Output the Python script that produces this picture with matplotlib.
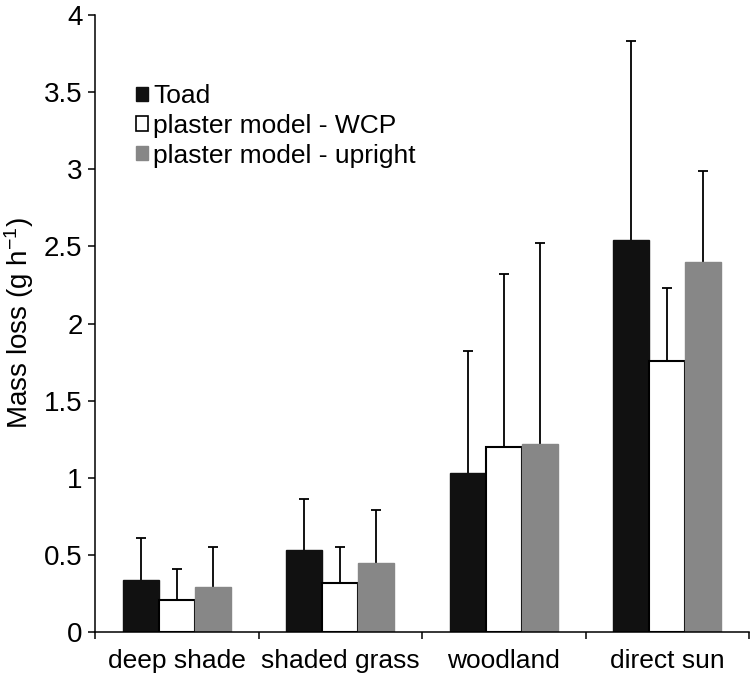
import numpy as np
import matplotlib
matplotlib.use('Agg')
import matplotlib.pyplot as plt
from matplotlib.patches import Patch

plt.rcParams['font.family'] = ['Liberation Sans', 'DejaVu Sans']

categories = ['deep shade', 'shaded grass', 'woodland', 'direct sun']
series = ['Toad', 'plaster model - WCP', 'plaster model - upright']
toad = [0.34, 0.53, 1.03, 2.54]
toad_sd = [0.27, 0.33, 0.79, 1.29]
wcp = [0.21, 0.32, 1.20, 1.76]
wcp_sd = [0.20, 0.23, 1.12, 0.47]
upright = [0.29, 0.45, 1.22, 2.40]
upright_sd = [0.26, 0.34, 1.30, 0.59]

fig = plt.figure(figsize=(7.5, 6.75), dpi=100)
ax = fig.add_axes([95 / 750, 1 - 632 / 675, 654 / 750, 617 / 675])

fs = 19
w = 0.22
x = np.arange(len(categories)) + 0.5
styles = [
    dict(color='#111111', edgecolor='#111111'),
    dict(color='white', edgecolor='black', linewidth=1.5),
    dict(color='#878787', edgecolor='#878787'),
]
vals = [toad, wcp, upright]
sds = [toad_sd, wcp_sd, upright_sd]
for k in range(3):
    pos = x + (k - 1) * w
    ax.bar(pos, vals[k], width=w, zorder=2, **styles[k])
    eb = ax.errorbar(pos, vals[k], yerr=[np.zeros(len(pos)), sds[k]], fmt='none',
                     ecolor='black', elinewidth=1.3, capsize=3.8, capthick=1.3, zorder=1)
    eb[1][0].set_visible(False)  # no cap at the bar top

ax.set_xlim(0, len(categories))
ax.set_ylim(0, 4)
ax.set_yticks(np.arange(0, 4.01, 0.5))
ax.set_yticklabels(['0', '0.5', '1', '1.5', '2', '2.5', '3', '3.5', '4'])
ax.set_xticks(np.arange(len(categories) + 1))
ax.set_xticklabels([])
ax.set_xticks(x, minor=True)
ax.set_xticklabels(categories, minor=True)
ax.tick_params(axis='x', which='major', direction='out', length=5, width=1.1)
ax.tick_params(axis='x', which='minor', length=0, pad=12, labelsize=fs)
ax.tick_params(axis='y', direction='out', length=5, width=1.1, pad=4, labelsize=fs + 1)
for s in ['top', 'right']:
    ax.spines[s].set_visible(False)
for s in ['left', 'bottom']:
    ax.spines[s].set_linewidth(1.1)
ax.spines['bottom'].set_clip_on(False)

ax.set_ylabel('Mass loss (g h$\\mathregular{^{-1}}$)', fontsize=20, labelpad=6)

handles = [Patch(facecolor='#111111', edgecolor='#111111'),
           Patch(facecolor='white', edgecolor='black', linewidth=1.2),
           Patch(facecolor='#878787', edgecolor='#878787')]
ax.legend(handles, series, loc='upper left', bbox_to_anchor=(0.047, 0.905),
          frameon=False, fontsize=fs, handlelength=0.45, handleheight=0.45,
          handletextpad=0.2, labelspacing=0.22, borderaxespad=0)

fig.savefig('out.png', dpi=100)
